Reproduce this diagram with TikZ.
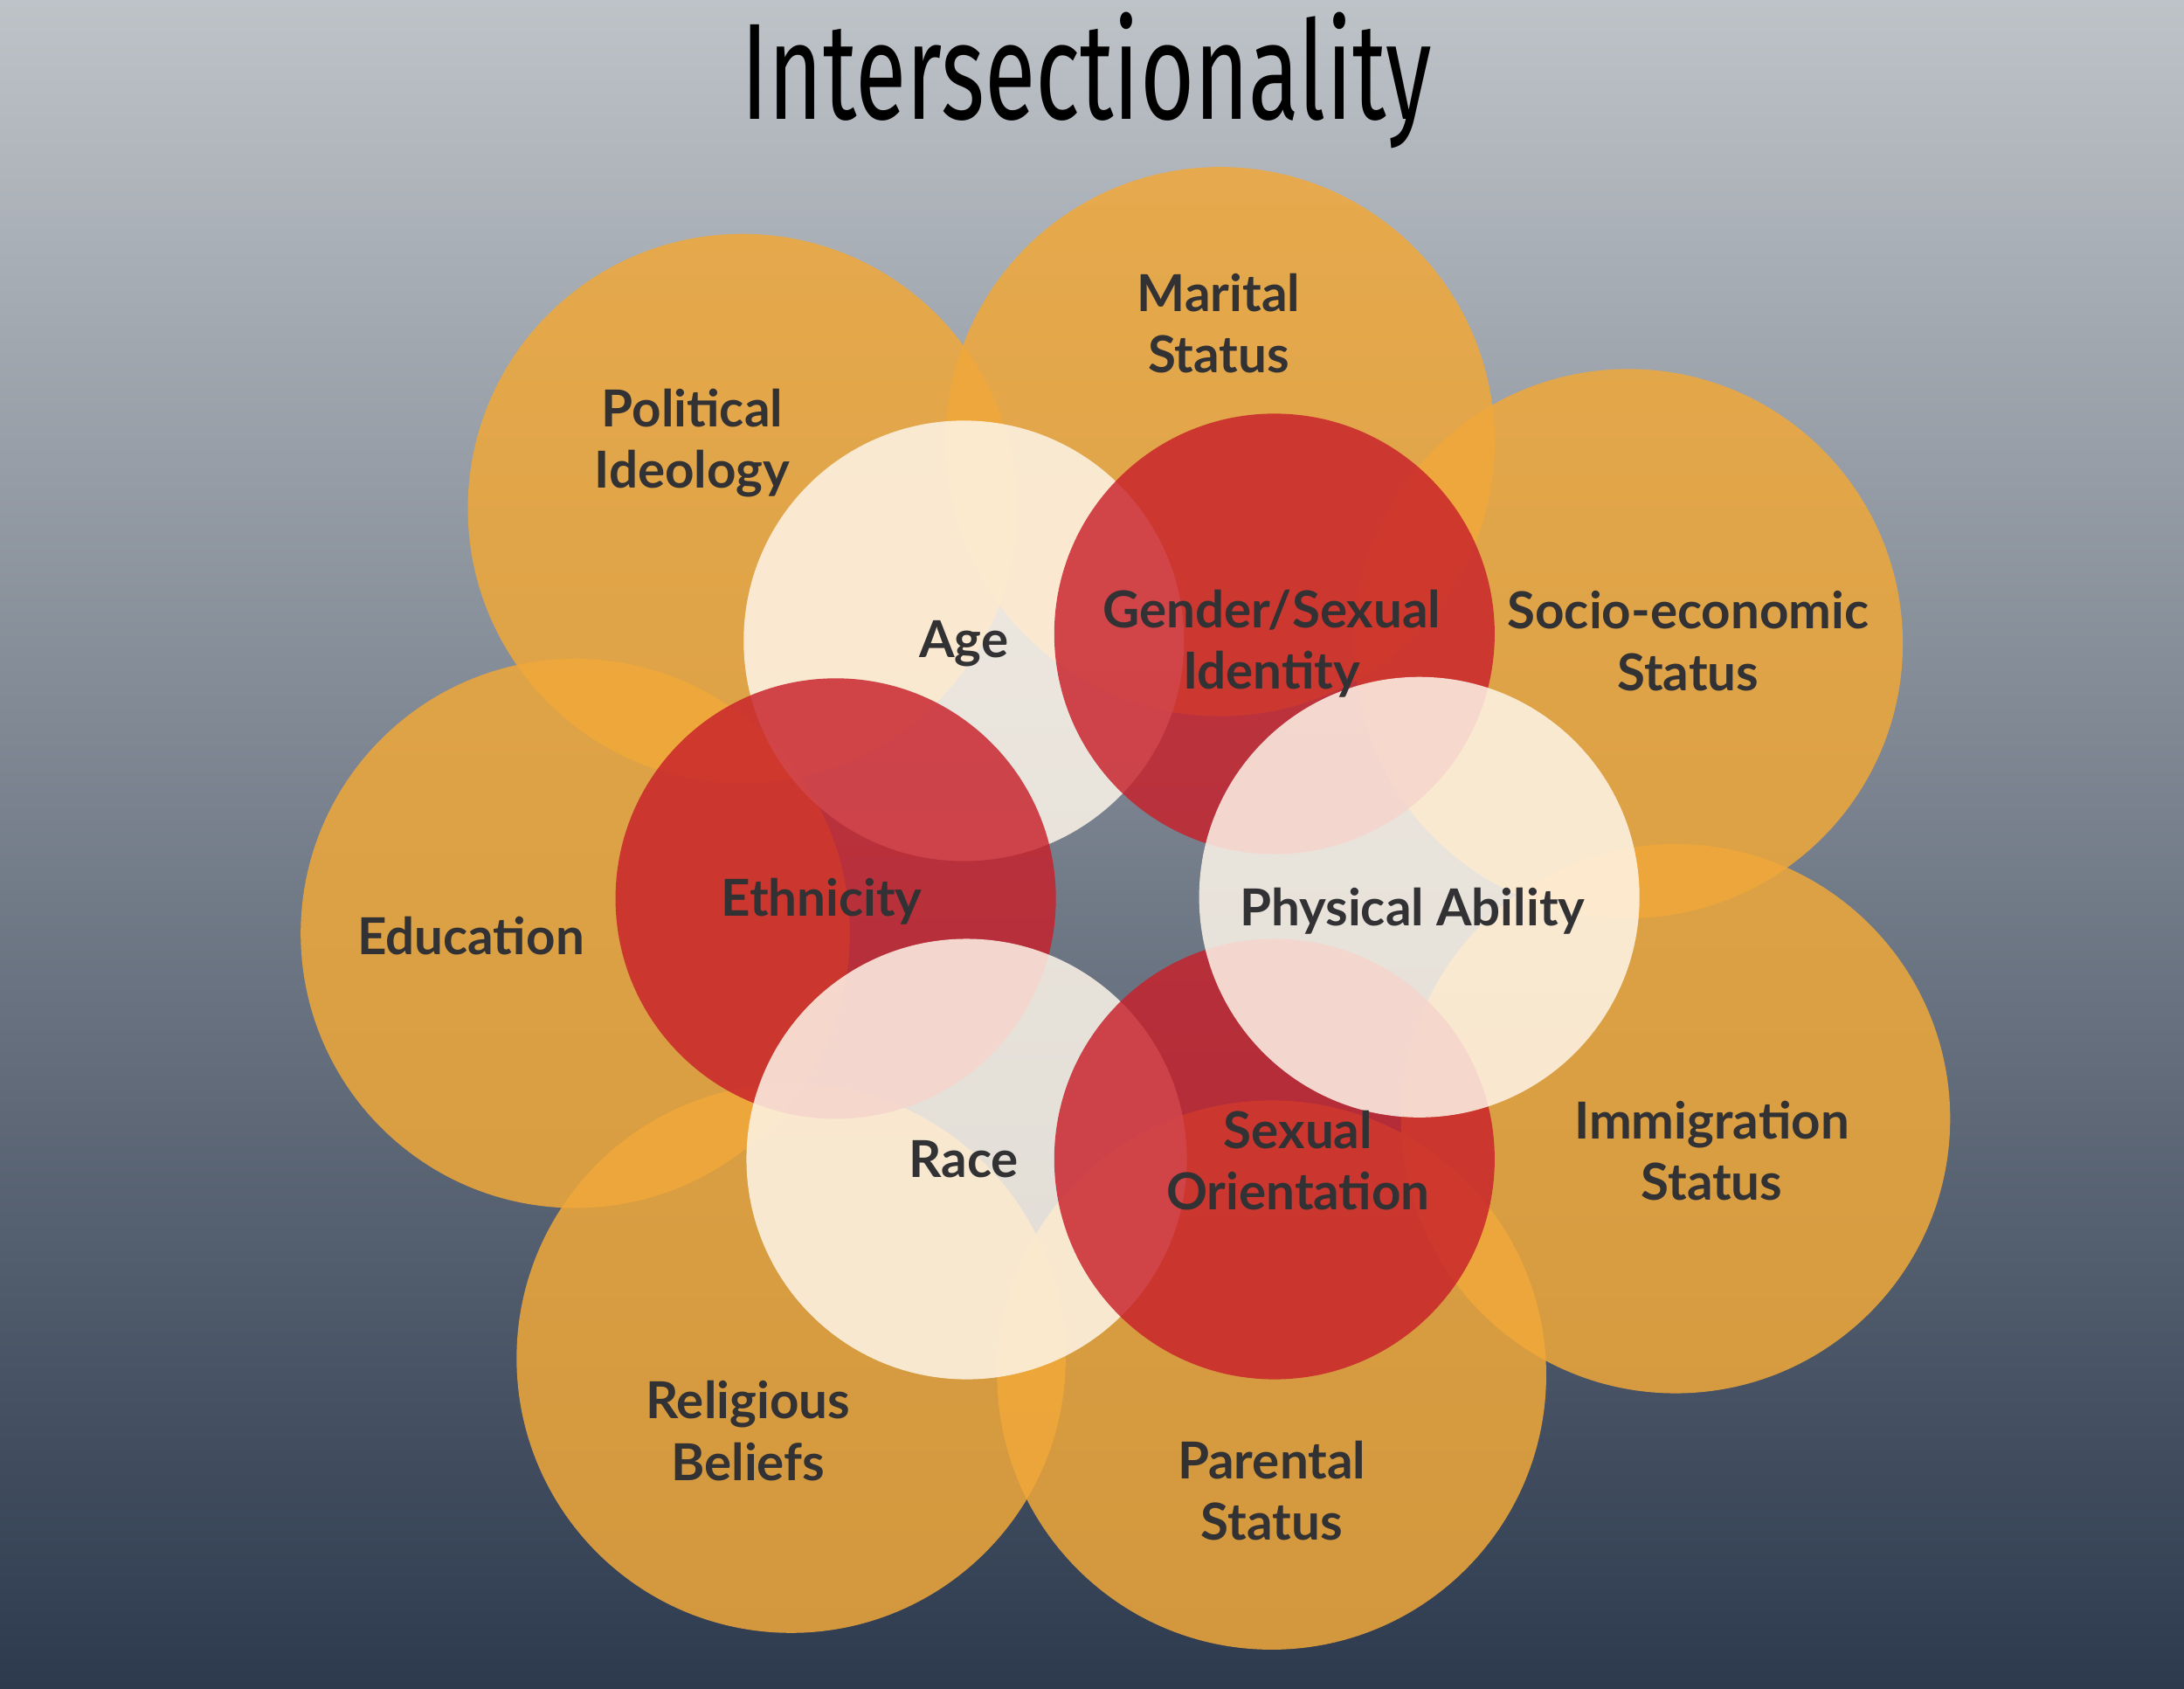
\documentclass[tikz,border=0pt]{standalone}
\usepackage{fontspec}
\setmainfont{Lato}
\newfontfamily\titlefont[FakeStretch=0.68]{Fira Sans}
\definecolor{bgtop}{RGB}{190,195,200}
\definecolor{bgbot}{RGB}{45,58,78}
\definecolor{orng}{RGB}{240,168,58}
\definecolor{rd}{RGB}{200,32,42}
\definecolor{wt}{RGB}{255,247,235}
\definecolor{txt}{RGB}{50,50,52}
\tikzset{
 outer/.style={fill=orng,fill opacity=0.85,draw=none},
 redc/.style={fill=rd,fill opacity=0.82,draw=none},
 whitec/.style={fill=wt,fill opacity=0.84,draw=none},
 lbl/.style={text=txt,font=\bfseries\fontsize{10.4}{12.6}\selectfont,align=center}
}
\begin{document}
\begin{tikzpicture}[x=0.01cm,y=-0.01cm]
\shade[top color=bgtop,bottom color=bgbot] (0,0) rectangle (1568,1212);
\useasboundingbox (0,0) rectangle (1568,1212);
\node[text=black,font=\titlefont\fontsize{28}{30}\selectfont] (title) at (780,58) {Intersectionality};
% outer circles
\fill[outer] (533,365) circle (1.97cm);
\fill[outer] (876,317) circle (1.97cm);
\fill[outer] (1169,462) circle (1.97cm);
\fill[outer] (1203,803) circle (1.97cm);
\fill[outer] (913,987) circle (1.97cm);
\fill[outer] (568,975) circle (1.97cm);
\fill[outer] (413,670) circle (1.97cm);
% inner circles
\fill[whitec] (692,460) circle (1.58cm);
\fill[redc] (600,645) circle (1.58cm);
\fill[whitec] (694,832) circle (1.58cm);
\fill[redc] (915,455) circle (1.58cm);
\fill[redc] (915,832) circle (1.58cm);
\fill[whitec] (1019,644) circle (1.58cm);
% labels
\node[lbl] (pol) at (497,318) {Political\\Ideology};
\node[lbl] (mar) at (875,232) {Marital\\Status};
\node[lbl] (soc) at (1212,460) {Socio-economic\\Status};
\node[lbl] (imm) at (1229,826) {Immigration\\Status};
\node[lbl] (par) at (913,1070) {Parental\\Status};
\node[lbl] (rel) at (537,1027) {Religious\\Beliefs};
\node[lbl] (edu) at (338,672) {Education};
\node[lbl] (age) at (692,462) {Age};
\node[lbl] (gen) at (913,462) {Gender/Sexual\\Identity};
\node[lbl] (phy) at (1014,654) {Physical Ability};
\node[lbl] (eth) at (590,647) {Ethnicity};
\node[lbl] (race) at (692,832) {Race};
\node[lbl] (sex) at (932,833) {Sexual\\Orientation};
\end{tikzpicture}
\end{document}
